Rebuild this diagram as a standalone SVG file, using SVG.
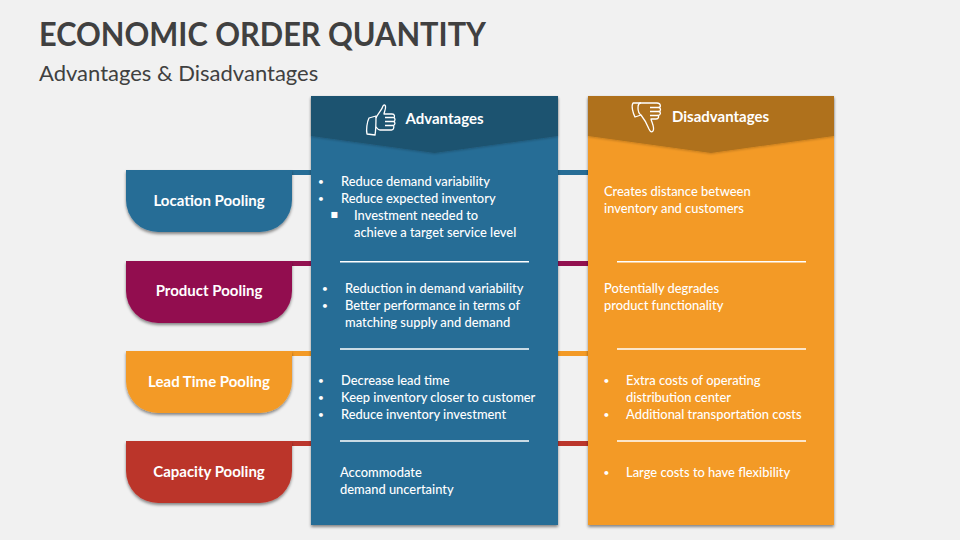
<svg xmlns="http://www.w3.org/2000/svg" width="960" height="540" viewBox="0 0 960 540">
<defs>
<filter id="sh" x="-10%" y="-10%" width="120%" height="120%"><feDropShadow dx="0" dy="2" stdDeviation="1.5" flood-color="#000" flood-opacity="0.45"/></filter>
<filter id="soft" x="-5%" y="-10%" width="110%" height="125%"><feDropShadow dx="0" dy="1" stdDeviation="1" flood-color="#000" flood-opacity="0.2"/></filter>
<path id="tab" d="M0 0H166V30A32 32 0 0 1 134 62H32A32 32 0 0 1 0 30Z"/>
</defs>
<style>
text{font-family:Lato,"Liberation Sans",sans-serif}
.t{font-size:12.900px;font-weight:500;fill:#fff}
.b{font-size:10px;text-anchor:middle}
.l{font-size:15px;font-weight:700;fill:#fff;text-anchor:middle}
.h{font-size:15px;font-weight:700;fill:#fff}
.d{stroke:#fff;stroke-width:1.500;fill:none}
.i{stroke:#fff;stroke-width:1.300;fill:none;stroke-linejoin:round}
.c{stroke-width:5;fill:none}
</style>
<rect width="960" height="540" fill="#f1f1f1"/>
<text x="39" y="46" font-size="32.500" font-weight="700" fill="#404040" textLength="447" lengthAdjust="spacingAndGlyphs">ECONOMIC ORDER QUANTITY</text>
<text x="39" y="81" font-size="22" fill="#404040">Advantages &amp; Disadvantages</text>
<g id="connectors">
<path class="c" stroke="#276d96" d="M270 172.500H640"/>
<path class="c" stroke="#921150" d="M270 263.500H640"/>
<path class="c" stroke="#f39a26" d="M270 353.500H640"/>
<path class="c" stroke="#bb362c" d="M270 443.500H640"/>
</g>
<g id="location-pooling"><use href="#tab" x="126" y="170" fill="#276d96" filter="url(#sh)"/><text class="l" x="209" y="206">Location Pooling</text></g>
<g id="product-pooling"><use href="#tab" x="126" y="261" fill="#921150" filter="url(#sh)"/><text class="l" x="209" y="296">Product Pooling</text></g>
<g id="lead-time-pooling"><use href="#tab" x="126" y="351" fill="#f39a26" filter="url(#sh)"/><text class="l" x="209" y="387">Lead Time Pooling</text></g>
<g id="capacity-pooling"><use href="#tab" x="126" y="441" fill="#bb362c" filter="url(#sh)"/><text class="l" x="209" y="477">Capacity Pooling</text></g>
<g id="advantages">
<rect x="311" y="96" width="247" height="429" fill="#276d96" filter="url(#sh)"/>
<path d="M311 96H558V136L434.500 153L311 136Z" fill="#1f536f" filter="url(#soft)"/>
<g class="i"><path d="M376 118C378 113 382 110 383 106C384 104 386 105 385.500 108C385 111 384 113 384 114H392C395 114 395 117 393.500 117.500C395.500 118 395.500 121 393.500 121.500C395.500 122 395.500 125 393 125.500C394.500 126 394 130 391.500 130H380C378 130 377 128 376 127"/><path d="M376 116L369 118C367 122 366 130 367 134L375 135C376 130 376 123 376 116Z"/><path d="M385 117.500H393M385 121.500H393M385 125.500H393"/></g>
<text class="h" x="405.500" y="124">Advantages</text>
<g class="t">
<text class="b" x="321" y="184.500">•</text><text x="341" y="186">Reduce demand variability</text>
<text class="b" x="321" y="201.500">•</text><text x="341" y="203">Reduce expected inventory</text>
<text x="334.300" y="218" font-size="12" text-anchor="middle" style="font-family:'DejaVu Sans',sans-serif">▪</text><text x="354" y="220">Investment needed to</text>
<text x="354" y="237">achieve a target service level</text>
<text class="b" x="325" y="291.500">•</text><text x="345" y="293">Reduction in demand variability</text>
<text class="b" x="325" y="308.500">•</text><text x="345" y="310">Better performance in terms of</text>
<text x="345" y="327">matching supply and demand</text>
<text class="b" x="321" y="383.500">•</text><text x="341" y="385">Decrease lead time</text>
<text class="b" x="321" y="400.500">•</text><text x="341" y="402">Keep inventory closer to customer</text>
<text class="b" x="321" y="417.500">•</text><text x="341" y="419">Reduce inventory investment</text>
<text x="340" y="477">Accommodate</text>
<text x="340" y="494">demand uncertainty</text>
</g>
<path class="d" d="M340 261.700H529M340 349H529M340 441H529"/>
</g>
<g id="disadvantages">
<rect x="588" y="96" width="246" height="429" fill="#f39a26" filter="url(#sh)"/>
<path d="M588 96H834V136L711 153L588 136Z" fill="#af711b" filter="url(#soft)"/>
<g class="i"><path d="M641 115C637 112 637 103 641 103H657C661 103 661 107 659 107.500C661 108 661 111 659 111.500C661 112 661 115 658 115.500C659 116 659 119 656 119H651C652 123 655 128 653 131C651 133 650 131 649 129C647 124 645 120 641 115Z"/><path d="M641 115L635 117C633 113 631 106 633 103L641 103"/><path d="M650 107.500H659M650 111.500H659M650 115.500H658"/></g>
<text class="h" x="672" y="122">Disadvantages</text>
<g class="t">
<text x="604" y="196">Creates distance between</text>
<text x="604" y="213">inventory and customers</text>
<text x="604" y="293">Potentially degrades</text>
<text x="604" y="310">product functionality</text>
<text class="b" x="606.300" y="383.500">•</text><text x="626" y="385">Extra costs of operating</text>
<text x="626" y="402">distribution center</text>
<text class="b" x="606.300" y="417.500">•</text><text x="626" y="419">Additional transportation costs</text>
<text class="b" x="606.300" y="475.500">•</text><text x="626" y="477">Large costs to have flexibility</text>
</g>
<path class="d" d="M617 261.700H806M617 349H806M617 441H806"/>
</g>
</svg>
